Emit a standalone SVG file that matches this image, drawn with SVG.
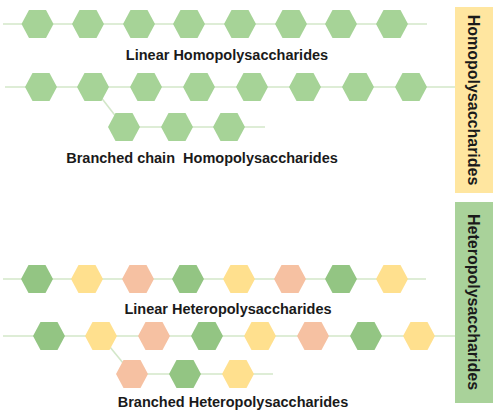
<svg xmlns="http://www.w3.org/2000/svg" xmlns:xlink="http://www.w3.org/1999/xlink" width="495" height="420" viewBox="0 0 495 420">
<style>
.ln{stroke:#d3e7c9;stroke-width:1.6;fill:none}
.g{fill:#a6d397}
.g2{fill:#93c583}
.y{fill:#ffe08e}
.s{fill:#f6c1a2}
.lbl{font-family:"Liberation Sans",Arial,sans-serif;font-weight:bold;font-size:14.5px;fill:#1a1a1a;text-anchor:middle}
.side{font-family:"Liberation Sans",Arial,sans-serif;font-weight:bold;font-size:16px;fill:#1a1a1a;text-anchor:middle}
</style>
<defs>
<polygon id="hex" points="-16,0 -8.5,-14 8.5,-14 16,0 8.5,14 -8.5,14"/>
</defs>
<rect width="495" height="420" fill="#ffffff"/>
<g id="connectors">
<line class="ln" x1="3" y1="24" x2="427" y2="24"/>
<line class="ln" x1="5" y1="87" x2="455" y2="87"/>
<line class="ln" x1="93" y1="87" x2="124" y2="127"/>
<line class="ln" x1="124" y1="127" x2="265" y2="127"/>
<line class="ln" x1="3" y1="279" x2="426" y2="279"/>
<line class="ln" x1="3" y1="336" x2="455" y2="336"/>
<line class="ln" x1="101" y1="336" x2="132" y2="374"/>
<line class="ln" x1="132" y1="374" x2="273" y2="374"/>
</g>
<g id="row1">
<g id="n1-1"><use xlink:href="#hex" class="g" x="37.5" y="24"/></g>
<g id="n1-2"><use xlink:href="#hex" class="g" x="88" y="24"/></g>
<g id="n1-3"><use xlink:href="#hex" class="g" x="139" y="24"/></g>
<g id="n1-4"><use xlink:href="#hex" class="g" x="189" y="24"/></g>
<g id="n1-5"><use xlink:href="#hex" class="g" x="240" y="24"/></g>
<g id="n1-6"><use xlink:href="#hex" class="g" x="291" y="24"/></g>
<g id="n1-7"><use xlink:href="#hex" class="g" x="341" y="24"/></g>
<g id="n1-8"><use xlink:href="#hex" class="g" x="392" y="24"/></g>
</g>
<g id="row2">
<g id="n2-1"><use xlink:href="#hex" class="g" x="41" y="87"/></g>
<g id="n2-2"><use xlink:href="#hex" class="g" x="93" y="87"/></g>
<g id="n2-3"><use xlink:href="#hex" class="g" x="146" y="87"/></g>
<g id="n2-4"><use xlink:href="#hex" class="g" x="199" y="87"/></g>
<g id="n2-5"><use xlink:href="#hex" class="g" x="252" y="87"/></g>
<g id="n2-6"><use xlink:href="#hex" class="g" x="305" y="87"/></g>
<g id="n2-7"><use xlink:href="#hex" class="g" x="358" y="87"/></g>
<g id="n2-8"><use xlink:href="#hex" class="g" x="411" y="87"/></g>
</g>
<g id="row3">
<g id="n3-1"><use xlink:href="#hex" class="g" x="124" y="127"/></g>
<g id="n3-2"><use xlink:href="#hex" class="g" x="177" y="127"/></g>
<g id="n3-3"><use xlink:href="#hex" class="g" x="229" y="127"/></g>
</g>
<g id="row4">
<g id="n4-1"><use xlink:href="#hex" class="g2" x="37" y="279"/></g>
<g id="n4-2"><use xlink:href="#hex" class="y" x="87" y="279"/></g>
<g id="n4-3"><use xlink:href="#hex" class="s" x="138" y="279"/></g>
<g id="n4-4"><use xlink:href="#hex" class="g2" x="188" y="279"/></g>
<g id="n4-5"><use xlink:href="#hex" class="y" x="239" y="279"/></g>
<g id="n4-6"><use xlink:href="#hex" class="s" x="290" y="279"/></g>
<g id="n4-7"><use xlink:href="#hex" class="g2" x="341" y="279"/></g>
<g id="n4-8"><use xlink:href="#hex" class="y" x="392" y="279"/></g>
</g>
<g id="row5">
<g id="n5-1"><use xlink:href="#hex" class="g2" x="49" y="336"/></g>
<g id="n5-2"><use xlink:href="#hex" class="y" x="101" y="336"/></g>
<g id="n5-3"><use xlink:href="#hex" class="s" x="154" y="336"/></g>
<g id="n5-4"><use xlink:href="#hex" class="g2" x="207" y="336"/></g>
<g id="n5-5"><use xlink:href="#hex" class="y" x="260" y="336"/></g>
<g id="n5-6"><use xlink:href="#hex" class="s" x="313" y="336"/></g>
<g id="n5-7"><use xlink:href="#hex" class="g2" x="366" y="336"/></g>
<g id="n5-8"><use xlink:href="#hex" class="y" x="419" y="336"/></g>
</g>
<g id="row6">
<g id="n6-1"><use xlink:href="#hex" class="s" x="132" y="374"/></g>
<g id="n6-2"><use xlink:href="#hex" class="g2" x="185" y="374"/></g>
<g id="n6-3"><use xlink:href="#hex" class="y" x="238" y="374"/></g>
</g>
<g id="labels">
<text class="lbl" x="227" y="60">Linear Homopolysaccharides</text>
<text class="lbl" x="202" y="163" xml:space="preserve">Branched chain  Homopolysaccharides</text>
<text class="lbl" x="228" y="314">Linear Heteropolysaccharides</text>
<text class="lbl" x="233" y="407">Branched Heteropolysaccharides</text>
</g>
<g id="homo-box">
<rect x="455" y="7" width="38" height="186" fill="#ffe6a0"/>
<text class="side" transform="translate(468,100) rotate(90)">Homopolysaccharides</text>
</g>
<g id="hetero-box">
<rect x="455" y="202" width="38" height="201" fill="#a9d29a"/>
<text class="side" transform="translate(468,302) rotate(90)">Heteropolysaccharides</text>
</g>
</svg>
